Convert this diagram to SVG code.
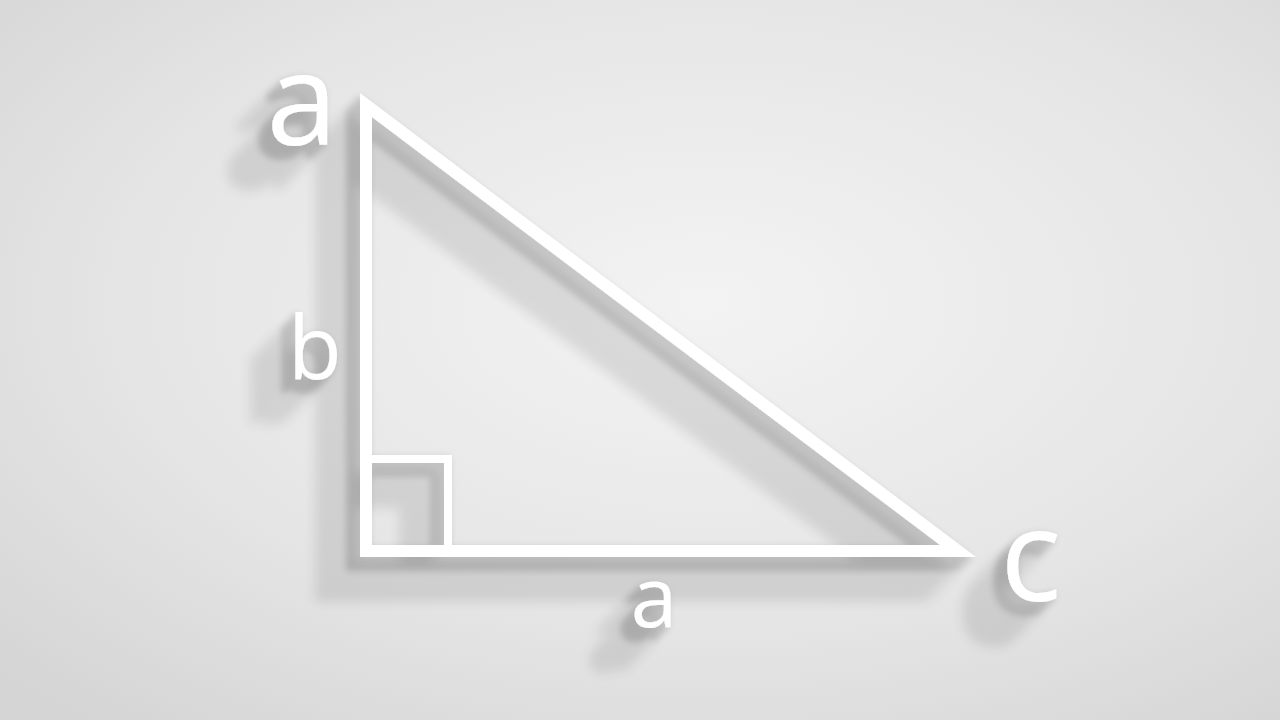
<svg xmlns="http://www.w3.org/2000/svg" width="1280" height="720" viewBox="0 0 1280 720">
<defs>
<radialGradient id="bg" cx="0.55" cy="0.42" r="0.75">
<stop offset="0" stop-color="#f3f3f3"/>
<stop offset="0.6" stop-color="#e5e5e5"/>
<stop offset="1" stop-color="#d5d5d5"/>
</radialGradient>
<filter id="ls" x="-40%" y="-40%" width="180%" height="180%">
<feGaussianBlur in="SourceAlpha" stdDeviation="1.5" result="b"/>
<feOffset in="b" dx="-2" dy="2" result="n1"/>
<feOffset in="b" dx="-5" dy="5" result="n2"/>
<feOffset in="b" dx="-8" dy="8" result="n3"/>
<feOffset in="b" dx="-11" dy="11" result="n4"/>
<feOffset in="b" dx="-14" dy="14" result="n5"/>
<feMerge result="nm"><feMergeNode in="n1"/><feMergeNode in="n2"/><feMergeNode in="n3"/><feMergeNode in="n4"/><feMergeNode in="n5"/></feMerge>
<feGaussianBlur in="nm" stdDeviation="3" result="nb"/>
<feComponentTransfer in="nb" result="na"><feFuncA type="linear" slope="0.17"/></feComponentTransfer>
<feOffset in="b" dx="-17" dy="17" result="f1"/>
<feOffset in="b" dx="-21" dy="21" result="f2"/>
<feOffset in="b" dx="-25" dy="25" result="f3"/>
<feOffset in="b" dx="-29" dy="29" result="f4"/>
<feOffset in="b" dx="-33" dy="33" result="f5"/>
<feOffset in="b" dx="-37" dy="37" result="f6"/>
<feOffset in="b" dx="-41" dy="41" result="f7"/>
<feOffset in="b" dx="-45" dy="45" result="f8"/>
<feMerge result="fm"><feMergeNode in="f1"/><feMergeNode in="f2"/><feMergeNode in="f3"/><feMergeNode in="f4"/><feMergeNode in="f5"/><feMergeNode in="f6"/><feMergeNode in="f7"/><feMergeNode in="f8"/></feMerge>
<feGaussianBlur in="fm" stdDeviation="6" result="fb"/>
<feComponentTransfer in="fb" result="fa"><feFuncA type="linear" slope="0.1"/></feComponentTransfer>
<feMerge result="ma"><feMergeNode in="fa"/><feMergeNode in="na"/></feMerge>
<feFlood flood-color="#000"/>
<feComposite in2="ma" operator="in" result="sh"/>
<feMerge><feMergeNode in="sh"/><feMergeNode in="SourceGraphic"/></feMerge>
</filter>
</defs>
<style>
.lbl{font-family:"Open Sans","DejaVu Sans",sans-serif;fill:#ffffff;text-anchor:middle}
.edge{fill:none;stroke:#ffffff;stroke-linejoin:miter;stroke-miterlimit:10}
</style>
<rect width="1280" height="720" fill="url(#bg)"/>
<g id="triangle" filter="url(#ls)">
<polygon class="edge" points="366,105 366,551 958,551" stroke-width="12"/>
<polyline class="edge" points="368,459 448,459 448,549" stroke-width="8"/>
</g>
<g id="labels" filter="url(#ls)">
<text id="label-a-top" class="lbl" x="302" y="145" font-size="128">a</text>
<text id="label-b" class="lbl" x="315" y="379" font-size="88">b</text>
<text id="label-a-bottom" class="lbl" x="654" y="627" font-size="84">a</text>
<text id="label-c" class="lbl" x="1031" y="601" font-size="128">c</text>
</g>
</svg>
